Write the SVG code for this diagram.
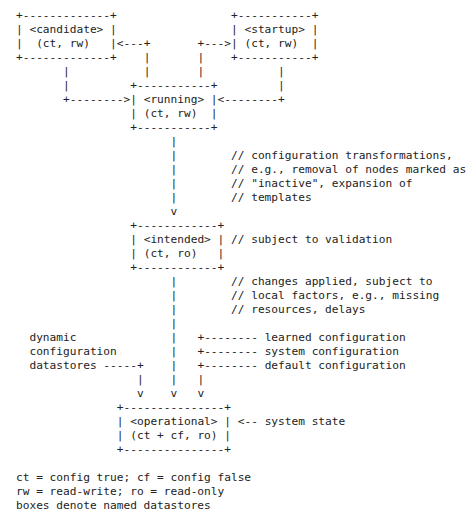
<svg xmlns="http://www.w3.org/2000/svg" width="474" height="522" viewBox="0 0 474 522">
<style>
text { font-family: "DejaVu Sans Mono", "Liberation Mono", monospace; font-size: 11.16px; fill: #222; white-space: pre; }
</style>
<rect width="474" height="522" fill="#ffffff"/>
<g id="candidate">
<text x="16" y="18.5">+-------------+</text>
<text x="16" y="32.5">| &lt;candidate&gt; |</text>
<text x="16" y="46.5">|  (ct, rw)   |</text>
<text x="16" y="60.5">+-------------+</text>
</g>
<g id="startup">
<text x="231.04" y="18.5">+-----------+</text>
<text x="231.04" y="32.5">| &lt;startup&gt; |</text>
<text x="231.04" y="46.5">| (ct, rw)  |</text>
<text x="231.04" y="60.5">+-----------+</text>
</g>
<g id="running">
<text x="130.24" y="88.5">+-----------+</text>
<text x="130.24" y="102.5">| &lt;running&gt; |</text>
<text x="130.24" y="116.5">| (ct, rw)  |</text>
<text x="130.24" y="130.5">+-----------+</text>
</g>
<g id="intended">
<text x="130.24" y="228.5">+------------+</text>
<text x="130.24" y="242.5">| &lt;intended&gt; |</text>
<text x="130.24" y="256.5">| (ct, ro)   |</text>
<text x="130.24" y="270.5">+------------+</text>
</g>
<g id="operational">
<text x="116.8" y="410.5">+---------------+</text>
<text x="116.8" y="424.5">| &lt;operational&gt; |</text>
<text x="116.8" y="438.5">| (ct + cf, ro) |</text>
<text x="116.8" y="452.5">+---------------+</text>
</g>
<g id="connectors">
<text x="116.8" y="46.5">&lt;---+</text>
<text x="197.44" y="46.5">+---&gt;</text>
<text x="143.68" y="60.5">|</text>
<text x="197.44" y="60.5">|</text>
<text x="63.04" y="74.5">|</text>
<text x="143.68" y="74.5">|</text>
<text x="197.44" y="74.5">|</text>
<text x="278.08" y="74.5">|</text>
<text x="63.04" y="88.5">|</text>
<text x="278.08" y="88.5">|</text>
<text x="63.04" y="102.5">+--------&gt;</text>
<text x="217.6" y="102.5">&lt;--------+</text>
<text x="170.56" y="144.5">|</text>
<text x="170.56" y="158.5">|</text>
<text x="170.56" y="172.5">|</text>
<text x="170.56" y="186.5">|</text>
<text x="170.56" y="200.5">|</text>
<text x="170.56" y="214.5">v</text>
<text x="170.56" y="284.5">|</text>
<text x="170.56" y="298.5">|</text>
<text x="170.56" y="312.5">|</text>
<text x="170.56" y="326.5">|</text>
<text x="170.56" y="340.5">|</text>
<text x="170.56" y="354.5">|</text>
<text x="170.56" y="368.5">|</text>
<text x="197.44" y="340.5">+--------</text>
<text x="197.44" y="354.5">+--------</text>
<text x="197.44" y="368.5">+--------</text>
<text x="103.36" y="368.5">-----+</text>
<text x="136.96" y="382.5">|</text>
<text x="170.56" y="382.5">|</text>
<text x="197.44" y="382.5">|</text>
<text x="136.96" y="396.5">v</text>
<text x="170.56" y="396.5">v</text>
<text x="197.44" y="396.5">v</text>
<text x="237.76" y="424.5">&lt;--</text>
</g>
<g id="labels">
<text x="231.04" y="158.5">// configuration transformations,</text>
<text x="231.04" y="172.5">// e.g., removal of nodes marked as</text>
<text x="231.04" y="186.5">// "inactive", expansion of</text>
<text x="231.04" y="200.5">// templates</text>
<text x="231.04" y="242.5">// subject to validation</text>
<text x="231.04" y="284.5">// changes applied, subject to</text>
<text x="231.04" y="298.5">// local factors, e.g., missing</text>
<text x="231.04" y="312.5">// resources, delays</text>
<text x="29.44" y="340.5">dynamic</text>
<text x="29.44" y="354.5">configuration</text>
<text x="29.44" y="368.5">datastores</text>
<text x="264.64" y="340.5">learned configuration</text>
<text x="264.64" y="354.5">system configuration</text>
<text x="264.64" y="368.5">default configuration</text>
<text x="264.64" y="424.5">system state</text>
</g>
<g id="legend">
<text x="16" y="480.5">ct = config true; cf = config false</text>
<text x="16" y="494.5">rw = read-write; ro = read-only</text>
<text x="16" y="508.5">boxes denote named datastores</text>
</g>
</svg>
